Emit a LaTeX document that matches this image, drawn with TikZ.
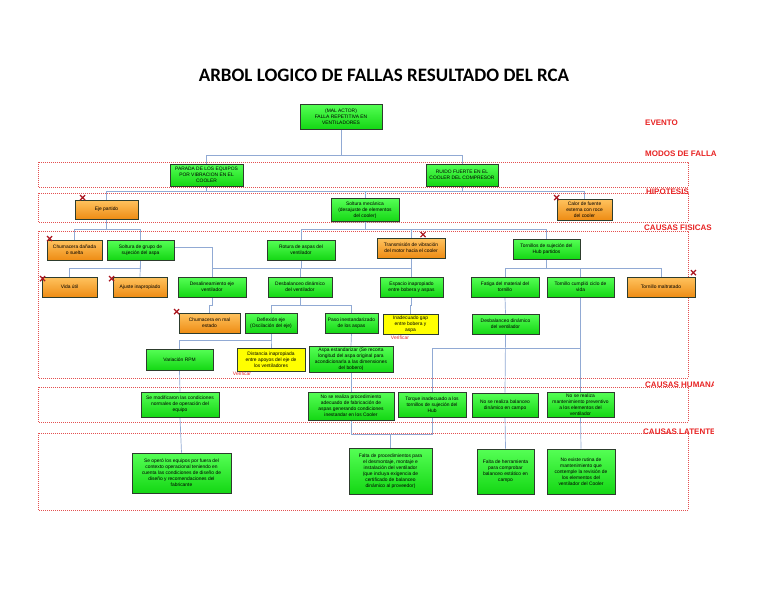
\documentclass[tikz,border=0pt]{standalone}
\usepackage{xcolor}
\usepackage{fontspec}
\setmainfont{Liberation Sans}
\newfontfamily\titulofont{Carlito}
\usepackage{tikz}
\usetikzlibrary{backgrounds, shadows}

\definecolor{verdeclaro}{RGB}{85,255,85}
\definecolor{verdeosc}{RGB}{20,215,20}
\definecolor{naranjaclaro}{RGB}{255,195,95}
\definecolor{naranjaosc}{RGB}{238,140,20}
\definecolor{amarillo}{RGB}{255,255,0}
\definecolor{borde}{RGB}{45,60,45}
\definecolor{azulrama}{RGB}{145,170,212}
\definecolor{rojobanda}{RGB}{228,80,80}
\definecolor{rojotexto}{RGB}{232,35,35}
\definecolor{rojocruz}{RGB}{170,20,30}

\tikzset{cruz/.pic={\draw[rojocruz, line width=1.2pt] (-2.5,-2.5) -- (2.5,2.5) (-2.5,2.5) -- (2.5,-2.5);}}

\begin{document}
\begin{tikzpicture}[
        x=1pt, y=-1pt,
        caja/.style = {rectangle, draw=borde, line width=0.8pt, align=center, inner sep=1pt, minimum height=20pt,
                       font=\fontsize{4.9}{5.9}\selectfont,
                       drop shadow={shadow xshift=1pt, shadow yshift=-1pt, opacity=0.35}},
        verde/.style = {caja, top color=verdeclaro, bottom color=verdeosc},
        naranja/.style = {caja, top color=naranjaclaro, bottom color=naranjaosc},
        amar/.style = {caja, fill=amarillo},
        rama/.style = {draw=azulrama, line width=0.7pt},
        banda/.style = {draw=rojobanda, line width=0.8pt, dash pattern=on 0.8pt off 1.2pt},
        nivel/.style = {anchor=west, inner sep=0pt, text=rojotexto, font=\bfseries\fontsize{8}{9}\selectfont},
        nota/.style = {inner sep=0pt, text=rojotexto, font=\fontsize{5}{6}\selectfont}
    ]
    \useasboundingbox (0,0) rectangle (768,594);

    \node[font=\titulofont\bfseries\fontsize{19}{22}\selectfont] (titulo) at (384,75) {ARBOL LOGICO DE FALLAS RESULTADO DEL RCA};

    % niveles
    \node[nivel] (evt) at (645,123) {EVENTO};
    \node[nivel] (modos) at (645,154) {MODOS DE FALLA};
    \node[nivel] (hipo) at (646,192) {HIPOTESIS};
    \node[nivel] (fisicas) at (644,228) {CAUSAS FISICAS};
    \begin{scope}
        \clip (600,370) rectangle (713,445);
        \node[nivel] (humanas) at (645,385) {CAUSAS HUMANAS};
        \node[nivel] (latentes) at (643,432) {CAUSAS LATENTES};
    \end{scope}

    % evento y modos de falla
    \node[verde, minimum width=82pt, minimum height=25pt] (evento) at (341,116.5) {(MAL ACTOR)\\FALLA REPETITIVA EN\\VENTILADORES};
    \node[verde, minimum width=73pt, minimum height=22pt] (parada) at (206.5,175) {PARADA DE LOS EQUIPOS\\POR VIBRACION EN EL\\COOLER};
    \node[verde, minimum width=72pt, minimum height=22pt] (ruido) at (462,175) {RUIDO FUERTE EN EL\\COOLER DEL COMPRESOR};

    % hipotesis
    \node[naranja, minimum width=63pt, minimum height=19pt] (eje) at (106.5,209.5) {Eje partido};
    \node[verde, minimum width=68pt, minimum height=23pt] (soltmec) at (365,210) {Soltura mecánica\\(desajuste de elementos\\del cooler)};
    \node[naranja, minimum width=55pt, minimum height=21pt] (calor) at (584.5,209.5) {Calor de fuente\\externa con roce\\del cooler};

    % causas fisicas
    \node[naranja, minimum width=55pt] (chum) at (74.5,250) {Chumacera dañada\\o suelta};
    \node[verde, minimum width=67pt] (soltgrupo) at (140.5,250) {Soltura de grupo de\\sujeción del aspa};
    \node[verde, minimum width=68pt] (rotura) at (301,250) {Rotura de aspas del\\ventilador};
    \node[naranja, minimum width=68pt] (transm) at (411,248) {Transmisión de vibración\\del motor hacia el cooler};
    \node[verde, minimum width=67pt] (tornhub) at (546.5,249) {Tornillos de sujeción del\\Hub partidos};

    \node[naranja, minimum width=55pt] (vida) at (69.5,287) {Vida útil};
    \node[naranja, minimum width=54pt] (ajuste) at (140,287) {Ajuste inapropiado};
    \node[verde, minimum width=68pt] (desal) at (212,287) {Desalineamiento eje\\ventilador};
    \node[verde, minimum width=64pt] (desbal) at (300,287) {Desbalanceo dinámico\\del ventilador};
    \node[verde, minimum width=63pt] (espacio) at (411.5,287) {Espacio inapropiado\\entre bobera y aspas};
    \node[verde, minimum width=68pt] (fatiga) at (505,287) {Fatiga del material del\\tornillo};
    \node[verde, minimum width=67pt] (cumplio) at (580.5,287) {Tornillo cumplió ciclo de\\vida};
    \node[naranja, minimum width=68pt] (maltrat) at (661,287) {Tornillo maltratado};

    \node[naranja, minimum width=61pt] (chummal) at (209.5,323) {Chumacera en mal\\estado};
    \node[verde, minimum width=52pt] (deflex) at (271,323) {Deflexión eje\\(Oscilación del eje)};
    \node[verde, minimum width=53pt] (paso) at (351.5,323) {Paso inestandarizado\\de los aspas};
    \node[amar, minimum width=55pt] (gap) at (410.5,324) {Inadecuado gap\\entre bobera y\\aspa};
    \node[nota] (ver1) at (400,338) {Verificar};
    \node[verde, minimum width=67pt] (desbal2) at (505.5,324) {Desbalanceo dinámico\\del ventilador};

    \node[verde, minimum width=67pt, minimum height=21pt] (rpm) at (179.5,359.5) {Variación RPM};
    \node[amar, minimum width=68pt, minimum height=23pt] (dist) at (271,359.5) {Distancia inapropiada\\entre apoyos del eje de\\los ventiladores};
    \node[nota] (ver2) at (242,374) {Verificar};
    \node[verde, minimum width=84pt, minimum height=26pt] (aspa) at (351,359) {Aspa estandarizar (Se recorta\\longitud del aspa original para\\acondicionarla a las dimensiones\\del bobero)};

    % causas humanas
    \node[verde, minimum width=78pt, minimum height=25pt] (modif) at (180,404.5) {Se modificaron las condiciones\\normales de operación del\\equipo};
    \node[verde, minimum width=86pt, minimum height=28pt] (noproc) at (351,406) {No se realiza procedimiento\\adecuado de fabricación de\\aspas generando condiciones\\inestandar en los Cooler};
    \node[verde, minimum width=68pt, minimum height=25pt] (torque) at (432,404.5) {Torque inadecuado a los\\tornillos de sujeción del\\Hub};
    \node[verde, minimum width=66pt, minimum height=24pt] (nobal) at (505,405) {No se realiza balanceo\\dinámico en campo};
    \node[verde, minimum width=67pt, minimum height=25pt] (nomant) at (580.5,404.5) {No se realiza\\mantenimiento preventivo\\a los elementos del\\ventilador};

    % causas latentes
    \node[verde, minimum width=99pt, minimum height=40pt] (seopero) at (181.5,473) {Se operó los equipos por fuera del\\contexto operacional teniendo en\\cuenta las condiciones de diseño de\\diseño y recomendaciones del\\fabricante};
    \node[verde, minimum width=83pt, minimum height=46pt] (faltaproc) at (390.5,471) {Falta de procedimientos para\\el desmontaje, montaje e\\instalación del ventilador\\(que incluya exigencia de\\certificado de balanceo\\dinámico al proveedor)};
    \node[verde, minimum width=57pt, minimum height=45pt] (faltaherr) at (505.5,471.5) {Falta de herramienta\\para comprobar\\balanceo estático en\\campo};
    \node[verde, minimum width=68pt, minimum height=45pt] (noexiste) at (581,471.5) {No existe rutina de\\mantenimiento que\\contemple la revisión de\\los elementos del\\ventilador del Cooler};

    % marcas de descarte
    \pic at ([xshift=8pt, yshift=2pt]eje.north west) {cruz};
    \pic at ([yshift=1pt]calor.north west) {cruz};
    \pic at ([xshift=3pt, yshift=1pt]chum.north west) {cruz};
    \pic at ([xshift=12pt, yshift=3pt]transm.north) {cruz};
    \pic at ([xshift=1pt, yshift=-2pt]vida.north west) {cruz};
    \pic at ([xshift=-1pt, yshift=-2pt]ajuste.north west) {cruz};
    \pic at ([xshift=-2pt, yshift=1pt]chummal.north west) {cruz};
    \pic at ([xshift=-2pt, yshift=4pt]maltrat.north east) {cruz};

    \begin{scope}[on background layer]
        \fill[white] (0,0) rectangle (768,594);
        \draw[banda] (38,162) rectangle (688,187);
        \draw[banda] (38,193) rectangle (688,222);
        \draw[banda] (38,231) rectangle (688,378);
        \draw[banda] (38,387) rectangle (688,422);
        \draw[banda] (38,433) rectangle (688,510);

        \coordinate (b0) at (0,155);
        \coordinate (b1) at (0,191);
        \coordinate (b2) at (0,229);
        \coordinate (b3) at (0,268);
        \coordinate (b4) at (0,305);
        \coordinate (b5) at (0,340);
        \coordinate (b6) at (0,348);
        \coordinate (b7) at (0,434);

        \draw[rama] (evento.south) |- (parada.north |- b0) -- (parada.north);
        \draw[rama] (evento.south) |- (ruido.north |- b0) -- (ruido.north);
        \draw[rama] (parada.south) |- (eje.north |- b1) -- (eje.north);
        \draw[rama] (parada.south) |- (soltmec.north |- b1) -- (soltmec.north);
        \draw[rama] (ruido.south) |- (soltmec.north |- b1) -- (soltmec.north);
        \draw[rama] (ruido.south) |- (calor.north |- b1) -- (calor.north);
        \draw[rama] (eje.south) |- (chum.north |- b2) -- (chum.north);
        \draw[rama] (eje.south) |- (soltgrupo.north |- b2) -- (soltgrupo.north);
        \draw[rama] (soltmec.south) |- (rotura.north |- b2) -- (rotura.north);
        \draw[rama] (soltmec.south) |- (transm.north |- b2) -- (transm.north);
        \draw[rama] (soltmec.south) |- (tornhub.north |- b2) -- (tornhub.north);
        \draw[rama] (soltgrupo.south) |- (vida.north |- b3) -- (vida.north);
        \draw[rama] (soltgrupo.south) -- (ajuste.north);
        \draw[rama] ([yshift=3pt]soltgrupo.east) -| (desal.north);
        \draw[rama] (rotura.south) |- (desal.north |- b3) -- (desal.north);
        \draw[rama] (rotura.south) |- (desbal.north |- b3) -- (desbal.north);
        \draw[rama] (rotura.south) |- (espacio.north |- b3) -- (espacio.north);
        \draw[rama] (transm.south) -- (espacio.north -| transm.south);
        \draw[rama] (tornhub.south) |- (fatiga.north |- b3) -- (fatiga.north);
        \draw[rama] (tornhub.south) |- (cumplio.north |- b3) -- (cumplio.north);
        \draw[rama] (tornhub.south) |- (maltrat.north |- b3) -- (maltrat.north);
        \draw[rama] (desal.south) |- (chummal.north |- b4) -- (chummal.north);
        \draw[rama] (desbal.south) |- (deflex.north |- b4) -- (deflex.north);
        \draw[rama] (desbal.south) |- (paso.north |- b4) -- (paso.north);
        \draw[rama] (espacio.south) |- (gap.north |- b4) -- (gap.north);
        \draw[rama] (fatiga.south) -- (desbal2.north);
        \draw[rama] (deflex.south) |- (rpm.north |- b5) -- (rpm.north);
        \draw[rama] (deflex.south) |- (dist.north |- b5) -- (dist.north);
        \draw[rama] (paso.south) -- (aspa.north);
        \draw[rama] (cumplio.south) |- (torque.north |- b6) -- (torque.north);
        \draw[rama] (cumplio.south) -- (nomant.north);
        \draw[rama] (desbal2.south) -- (nobal.north);
        \draw[rama] (rpm.south) -- (modif.north);
        \draw[rama] (aspa.south) -- (noproc.north);
        \draw[rama] (modif.south) -- (seopero.north);
        \draw[rama] (noproc.south) |- (faltaproc.north |- b7) -- (faltaproc.north);
        \draw[rama] (torque.south) |- (faltaproc.north |- b7) -- (faltaproc.north);
        \draw[rama] (nobal.south) -- (faltaherr.north);
        \draw[rama] (nomant.south) -- (noexiste.north);
    \end{scope}
\end{tikzpicture}
\end{document}
